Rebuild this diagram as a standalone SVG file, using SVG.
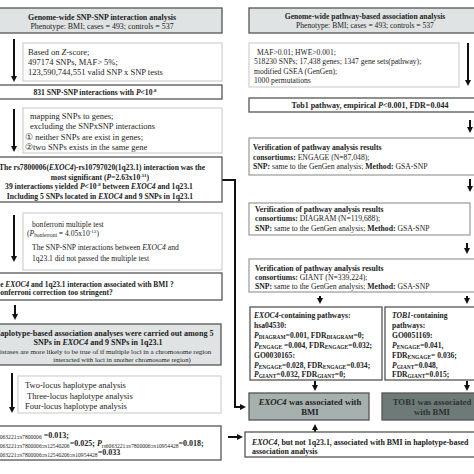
<svg xmlns="http://www.w3.org/2000/svg" width="474" height="474" viewBox="0 0 474 474">
<style>
text{font-family:"Liberation Serif","Times New Roman",serif;font-size:7.6px;fill:#222}
.b{font-weight:bold}
.i{font-style:italic}
.m{text-anchor:middle}
.s{font-size:5.4px}
.su{font-size:5px}
.hd{fill:#dfe3e3;stroke:#555;stroke-width:1.3}
.dk{fill:#fff;stroke:#555;stroke-width:1.3}
.lt{fill:#fff;stroke:#d0d0d0;stroke-width:1.2}
.md{fill:#fff;stroke:#999;stroke-width:1.2}
.ar{stroke:#111;stroke-width:2;fill:none}
.f85 text{font-size:8.5px}
.f79 text{font-size:7.9px}
.f80 text{font-size:8px}
.f77 text{font-size:7.7px}
.f87 text{font-size:8.7px}
</style>
<defs>
<marker id="ah" markerWidth="6" markerHeight="6" refX="1" refY="3" orient="auto" markerUnits="userSpaceOnUse"><path d="M0,0 L6,3 L0,6 z" fill="#111"/></marker>
</defs>
<rect width="474" height="474" fill="#fff"/>

<g id="connectors">
<line class="ar" x1="14" y1="39" x2="14" y2="77" marker-end="url(#ah)"/>
<line class="ar" x1="14" y1="109" x2="14" y2="147" marker-end="url(#ah)"/>
<line class="ar" x1="14" y1="215" x2="14" y2="257" marker-end="url(#ah)"/>
<line class="ar" x1="15" y1="305" x2="15" y2="315" marker-end="url(#ah)"/>
<line class="ar" x1="12" y1="373" x2="12" y2="408" marker-end="url(#ah)"/>
<polyline class="ar" points="222,180 235,180 235,407 241,407" marker-end="url(#ah)"/>
<line class="ar" x1="228" y1="437" x2="238" y2="437" marker-end="url(#ah)"/>
<line class="ar" x1="468" y1="43" x2="468" y2="81" marker-end="url(#ah)"/>
<line class="ar" x1="470" y1="120" x2="470" y2="128" marker-end="url(#ah)"/>
<line class="ar" x1="470" y1="179" x2="470" y2="187" marker-end="url(#ah)"/>
<line class="ar" x1="467" y1="243" x2="467" y2="249" marker-end="url(#ah)"/>
<line class="ar" x1="320" y1="296" x2="320" y2="299" marker-end="url(#ah)"/>
<line class="ar" x1="467" y1="296" x2="467" y2="299" marker-end="url(#ah)"/>
<line class="ar" x1="315" y1="381" x2="315" y2="386" marker-end="url(#ah)"/>
<line class="ar" x1="467" y1="381" x2="467" y2="386" marker-end="url(#ah)"/>
<line class="ar" x1="315" y1="432" x2="315" y2="429" marker-end="url(#ah)"/>
</g>

<g id="snp-header" class="f79">
<rect class="hd" x="-5" y="8" width="227" height="25"/>
<text class="b m" x="102" y="19.5">Genome-wide SNP-SNP interaction analysis</text>
<text class="m" x="102" y="28.5">Phenotype: BMI; cases = 493; controls = 537</text>
</g>

<g id="zscore" class="f85">
<rect class="lt" x="23" y="43" width="199" height="38"/>
<text x="28" y="54.5">Based on <tspan class="i">Z</tspan>-score;</text>
<text x="28" y="64.5">497174 SNPs, MAF&gt; 5%;</text>
<text x="28" y="74.5">123,590,744,551  valid SNP x SNP tests</text>
</g>

<g id="n831">
<rect class="dk" x="-5" y="85" width="227" height="14"/>
<text class="b m" x="95" y="95">831 SNP-SNP interactions with <tspan class="i">P</tspan>&lt;10<tspan class="su" dy="-3">-8</tspan></text>
</g>

<g id="mapping" class="f85">
<rect class="lt" x="23" y="108" width="199" height="45"/>
<text x="30" y="118.5">mapping SNPs to genes;</text>
<text x="30" y="129">excluding the SNPxSNP interactions</text>
<text x="25" y="139.5">① neither SNPs are exist in genes;</text>
<text x="25" y="149.5">②two SNPs exists in the same gene</text>
</g>

<g id="rs7800006">
<rect class="dk" x="-5" y="157" width="227" height="45"/>
<text class="b m" x="102" y="169.5">The rs7800006(<tspan class="i">EXOC4</tspan>)-rs10797020(1q23.1) interaction was the</text>
<text class="b m" x="100" y="179.5">most significant (<tspan class="i">P</tspan>=2.63x10<tspan class="su" dy="-3">-11</tspan><tspan dy="3">)</tspan></text>
<text class="b m" x="99" y="188.5">39 interactions yielded <tspan class="i">P</tspan>&lt;10<tspan class="su" dy="-3">-8</tspan><tspan dy="3"> between </tspan><tspan class="i">EXOC4</tspan> and 1q23.1</text>
<text class="b m" x="100" y="198.5">Including  5 SNPs located in <tspan class="i">EXOC4</tspan> and 9 SNPs in 1q23.1</text>
</g>

<g id="bonferroni">
<rect class="lt" x="23" y="213" width="199" height="57"/>
<text x="32" y="226.5">bonferroni multiple test</text>
<text x="27" y="235.5">(<tspan class="i">P</tspan><tspan class="s" dy="1.5">bonferroni</tspan><tspan dy="-1.5"> = 4.05x10</tspan><tspan class="su" dy="-3">-13</tspan><tspan dy="3">)</tspan></text>
<text x="32" y="249.5">The SNP-SNP interactions between <tspan class="i">EXOC4</tspan> and</text>
<text x="32" y="260.5">1q23.1 did not passed the multiple test</text>
</g>

<g id="question">
<rect class="dk" x="-5" y="273" width="227" height="27"/>
<text class="b" x="-14" y="287" style="font-size:7.4px">Is the <tspan class="i">EXOC4</tspan> and 1q23.1 interaction associated with BMI ?</text>
<text class="b" x="-15" y="295">Or bonferroni correction too stringent?</text>
</g>

<g id="haplotype">
<rect class="hd" x="-5" y="324" width="226" height="41"/>
<text class="b" x="-6" y="335.5" style="font-size:8.1px">Haplotype-based association analyses were carried out among 5</text>
<text class="b m" x="98" y="344.5" style="font-size:8px">SNPs in <tspan class="i">EXOC4</tspan> and 9 SNPs in 1q23.1</text>
<text x="-10" y="353.5" style="font-size:7px">(Epistases are more likely  to be true of if multiple  loci in a chromosome region</text>
<text class="m" x="122" y="361.5" style="font-size:6.7px">interacted with loci in another chromosome region)</text>
</g>

<g id="loci" class="f85">
<rect class="lt" x="18" y="376" width="203" height="37"/>
<text x="25" y="387.5">Two-locus haplotype analysis</text>
<text x="27" y="398.5">Three-locus haplotype analysis</text>
<text x="25" y="408.5">Four-locus haplotype analysis</text>
</g>

<g id="hap-results">
<rect class="dk" x="-5" y="426" width="226" height="34"/>
<text class="b" x="-12" y="437.5" style="font-size:8px"><tspan class="i">P</tspan><tspan dy="1.5" style="font-weight:normal;font-size:5.6px">rs6063221:rs7800006</tspan><tspan dy="-1.5"> =0.013;</tspan></text>
<text class="b" x="-12" y="446" style="font-size:8px"><tspan class="i">P</tspan><tspan dy="1.5" style="font-weight:normal;font-size:5.6px">rs6063221:rs7800006:rs12540206</tspan><tspan dy="-1.5">=0.025; </tspan><tspan class="i">P</tspan><tspan dy="1.5" style="font-weight:normal;font-size:5.6px">rs6063221:rs7800006:rs10954428</tspan><tspan dy="-1.5">=0.018;</tspan></text>
<text class="b" x="-12" y="455" style="font-size:8px"><tspan class="i">P</tspan><tspan dy="1.5" style="font-weight:normal;font-size:5.6px">rs6063221:rs7800006:rs12540206:rs10954428</tspan><tspan dy="-1.5">=0.033</tspan></text>
</g>

<g id="pathway-header">
<rect class="hd" x="249" y="8" width="230" height="25"/>
<text class="b m" x="365" y="18.5">Genome-wide pathway-based association analysis</text>
<text class="m" x="365" y="27.5">Phenotype: BMI; cases = 493; controls = 537</text>
</g>

<g id="maf">
<rect class="lt" x="249" y="43" width="210" height="44"/>
<text x="257" y="54.5">MAF&gt;0.01; HWE&gt;0.001;</text>
<text x="254" y="64">518230 SNPs; 17,438 genes; 1347 gene sets(pathway);</text>
<text x="254" y="73.5">modified GSEA (GenGen);</text>
<text x="254" y="82.5">1000 permutations</text>
</g>

<g id="tob1" class="f80">
<rect class="dk" x="249" y="98" width="230" height="14"/>
<text class="b m" x="370" y="108">Tob1 pathway, empirical <tspan class="i">P</tspan>&lt;0.001, FDR=0.044</text>
</g>

<g id="engage" class="f77">
<rect class="md" x="249" y="138" width="230" height="37"/>
<text class="b" x="253" y="149.5">Verification of pathway analysis results</text>
<text x="253" y="159.5"><tspan class="b">consortiums:</tspan>    ENGAGE (N=87,048);</text>
<text x="253" y="168.5"><tspan class="b">SNP:</tspan> same to the GenGen analysis; <tspan class="b">Method:</tspan> GSA-SNP</text>
</g>

<g id="diagram" class="f77">
<rect class="md" x="249" y="203" width="221" height="32"/>
<text class="b" x="255" y="211.5">Verification of pathway analysis results</text>
<text x="255" y="221"><tspan class="b">consortiums:</tspan>    DIAGRAM  (N=119,688);</text>
<text x="255" y="230.5"><tspan class="b">SNP:</tspan> same to the GenGen analysis; <tspan class="b">Method:</tspan> GSA-SNP</text>
</g>

<g id="giant" class="f77">
<rect class="md" x="249" y="259" width="230" height="33"/>
<text class="b" x="255" y="270.5">Verification of pathway analysis results</text>
<text x="255" y="280"><tspan class="b">consortiums:</tspan>    GIANT  (N=339,224);</text>
<text x="255" y="289"><tspan class="b">SNP:</tspan> same to the GenGen analysis; <tspan class="b">Method:</tspan> GSA-SNP</text>
</g>

<g id="exoc4-pathways">
<rect class="dk" x="250" y="307" width="132" height="73"/>
<text class="b" x="254" y="317.5"><tspan class="i">EXOC4</tspan>-containing pathways:</text>
<text class="b" x="254" y="327.5">hsa04530:</text>
<text class="b" x="254" y="337.5"><tspan class="i">P</tspan><tspan class="s" dy="1.5">DIAGRAM</tspan><tspan dy="-1.5">=0.001, FDR</tspan><tspan class="s" dy="1.5">DIAGRAM</tspan><tspan dy="-1.5">=0;</tspan></text>
<text class="b" x="254" y="347.5"><tspan class="i">P</tspan><tspan class="s" dy="1.5">ENGAGE</tspan><tspan dy="-1.5"> =0.004, FDR</tspan><tspan class="s" dy="1.5">ENGAGE</tspan><tspan dy="-1.5">=0.032;</tspan></text>
<text class="b" x="254" y="357.5">GO0030165:</text>
<text class="b" x="254" y="367.5"><tspan class="i">P</tspan><tspan class="s" dy="1.5">ENGAGE</tspan><tspan dy="-1.5">=0.028,  FDR</tspan><tspan class="s" dy="1.5">ENGAGE</tspan><tspan dy="-1.5">=0.034;</tspan></text>
<text class="b" x="254" y="376.5"><tspan class="i">P</tspan><tspan class="s" dy="1.5">GIANT</tspan><tspan dy="-1.5">=0.032, FDR</tspan><tspan class="s" dy="1.5">GIANT</tspan><tspan dy="-1.5">=0;</tspan></text>
</g>

<g id="tob1-pathways">
<rect class="dk" x="385" y="307" width="95" height="73"/>
<text class="b" x="392" y="317.5"><tspan class="i">TOB1</tspan>-containing</text>
<text class="b" x="392" y="327.5">pathways:</text>
<text class="b" x="392" y="337.5">GO0051169:</text>
<text class="b" x="392" y="347.5"><tspan class="i">P</tspan><tspan class="s" dy="1.5">ENGAGE</tspan><tspan dy="-1.5">=0.041,</tspan></text>
<text class="b" x="392" y="357.5">FDR<tspan class="s" dy="1.5">ENGAGE</tspan><tspan dy="-1.5">=  0.036;</tspan></text>
<text class="b" x="392" y="367.5"><tspan class="i">P</tspan><tspan class="s" dy="1.5">GIANT</tspan><tspan dy="-1.5">=0.048,</tspan></text>
<text class="b" x="392" y="376.5">FDR<tspan class="s" dy="1.5">GIANT</tspan><tspan dy="-1.5">=0.015;</tspan></text>
</g>

<g id="exoc4-bmi" class="f87">
<rect x="249" y="393" width="120" height="27" fill="#a6b0af" stroke="#555" stroke-width="1.3"/>
<text class="b m" x="310" y="404.5"><tspan class="i">EXOC4</tspan>  was associated with</text>
<text class="b m" x="310" y="414.5">BMI</text>
</g>

<g id="tob1-bmi" class="f87">
<rect x="382" y="393" width="97" height="27" fill="#6e7a78" stroke="#555" stroke-width="1.3"/>
<text class="b m" x="432" y="404.5" style="fill:#2b3231">TOB1 was associated</text>
<text class="b m" x="432" y="414.5" style="fill:#2b3231">with BMI</text>
</g>

<g id="haplotype-conclusion" class="f79">
<rect class="dk" x="245" y="432" width="235" height="25"/>
<text class="b" x="252" y="444.5"><tspan class="i">EXOC4</tspan>, but not 1q23.1, associated with BMI in haplotype-based</text>
<text class="b" x="252" y="453.5">association analysis</text>
</g>
</svg>
